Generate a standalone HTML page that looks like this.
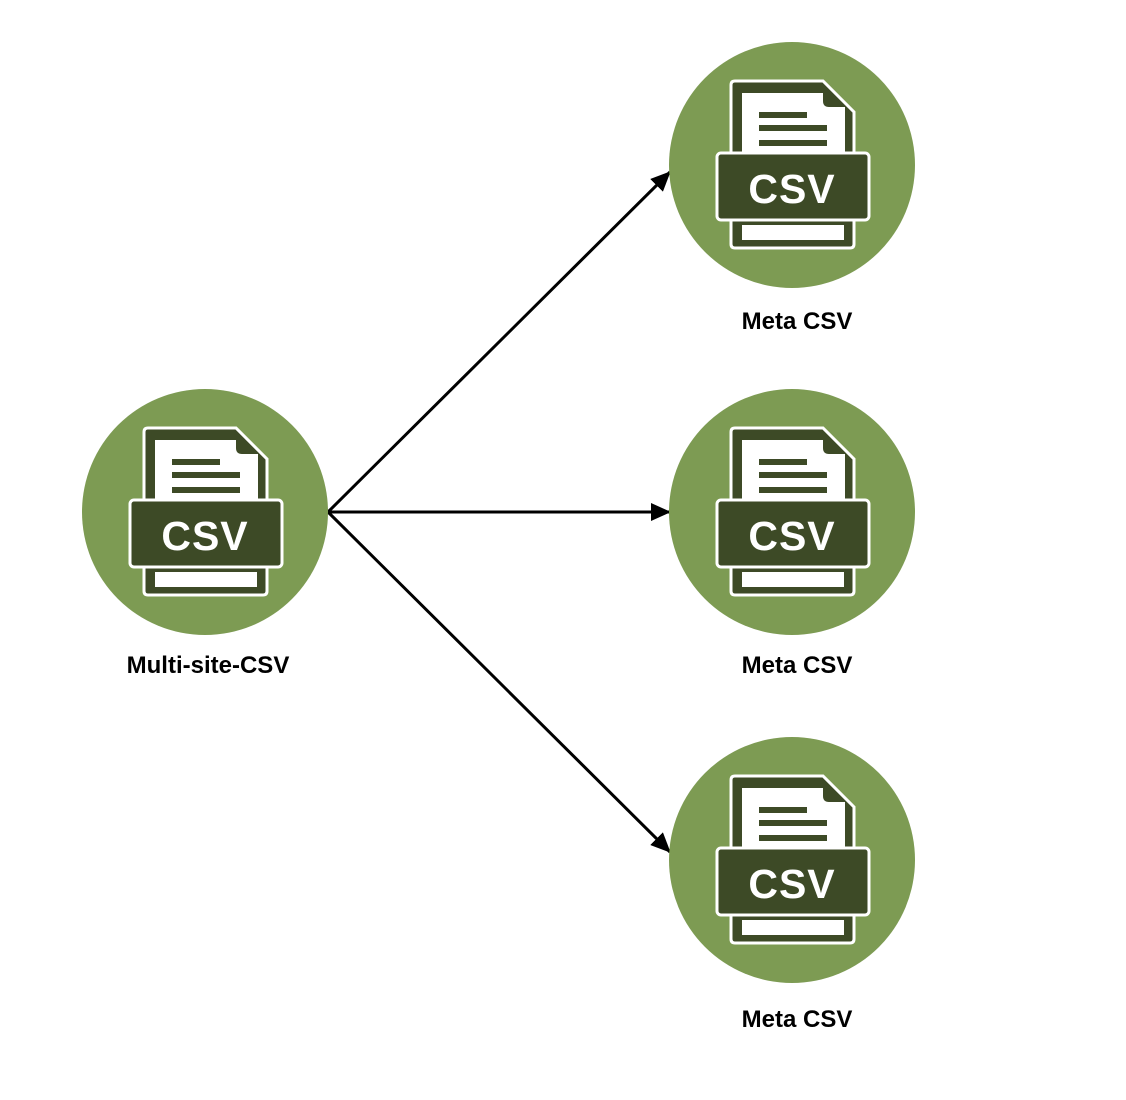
<!DOCTYPE html>
<html><head><meta charset="utf-8"><style>
html,body{margin:0;padding:0;background:#fff;width:1126px;height:1100px;overflow:hidden}
</style></head><body>
<svg width="1126" height="1100" viewBox="0 0 1126 1100" xmlns="http://www.w3.org/2000/svg">
<defs>
<marker id="ah2" markerWidth="20" markerHeight="18" refX="19" refY="9" orient="auto" markerUnits="userSpaceOnUse">
<path d="M0,0 L20,9 L0,18 z" fill="#000"/>
</marker>
<g id="icon">
<circle cx="0" cy="0" r="123" fill="#7d9b53"/>
<path d="M-61,-80 Q-61,-84 -57,-84 L31,-84 L62,-53 L62,79 Q62,83 58,83 L-57,83 Q-61,83 -61,79 Z" fill="#3d4a26" stroke="#fff" stroke-width="3"/>
<path d="M-50,-72 L31,-72 L31,-64 Q31,-58 37,-58 L53,-58 L53,-12 L-50,-12 Z" fill="#fff"/>
<rect x="-33" y="-53" width="48" height="6" fill="#3d4a26"/>
<rect x="-33" y="-40" width="68" height="6" fill="#3d4a26"/>
<rect x="-33" y="-25" width="68" height="6" fill="#3d4a26"/>
<rect x="-75" y="-12" width="152" height="67" rx="4" fill="#3d4a26" stroke="#fff" stroke-width="3"/>
<rect x="-50" y="60" width="102" height="15" fill="#fff"/>
<text x="0" y="38" text-anchor="middle" font-family="Liberation Sans, sans-serif" font-weight="bold" font-size="41" fill="#fff" letter-spacing="1">CSV</text>
</g>
</defs>
<line x1="328" y1="512" x2="670" y2="172" stroke="#000" stroke-width="3" marker-end="url(#ah2)"/>
<line x1="328" y1="512" x2="670" y2="512" stroke="#000" stroke-width="3" marker-end="url(#ah2)"/>
<line x1="328" y1="512" x2="670" y2="852" stroke="#000" stroke-width="3" marker-end="url(#ah2)"/>
<use href="#icon" x="205" y="512"/>
<use href="#icon" x="792" y="165"/>
<use href="#icon" x="792" y="512"/>
<use href="#icon" x="792" y="860"/>
<g font-family="Liberation Sans, sans-serif" font-weight="bold" font-size="24" fill="#000" text-anchor="middle">
<text x="208" y="673">Multi-site-CSV</text>
<text x="797" y="329">Meta CSV</text>
<text x="797" y="673">Meta CSV</text>
<text x="797" y="1027">Meta CSV</text>
</g>
</svg>
</body></html>
